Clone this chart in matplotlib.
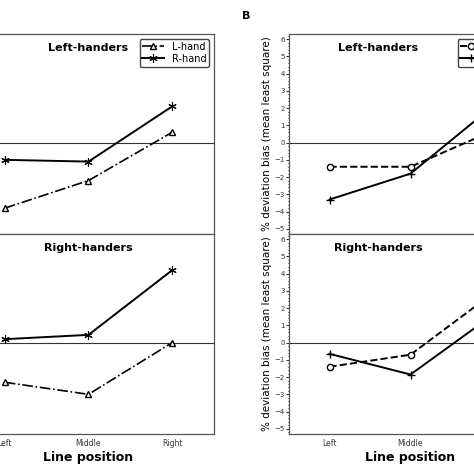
import numpy as np
import matplotlib
matplotlib.use("Agg")
import matplotlib.pyplot as plt
from matplotlib.ticker import MultipleLocator

positions = ["Left", "Middle", "Right"]

# panel A (left, cropped)
a_left_L = [-3.8, -2.2, 0.6]
a_left_R = [-1.0, -1.1, 2.1]
a_right_L = [-2.3, -3.0, 0.0]
a_right_R = [0.2, 0.45, 4.2]

# panel B (right, cropped)
b_left_circ = [-1.4, -1.4, 0.65]
b_left_plus = [-3.3, -1.8, 2.05]
b_right_circ = [-1.4, -0.7, 2.8]
b_right_plus = [-0.65, -1.85, 1.55]

W = 474.0
fig = plt.figure(figsize=(4.74, 4.74), dpi=100)

def px_axes(x0, x1, y0, y1):
    return fig.add_axes([x0 / W, 1 - y1 / W, (x1 - x0) / W, (y1 - y0) / W])

x = np.arange(3)
ylim = (-5.3, 6.3)

def style(ax, show_x, yticks):
    ax.set_xlim(-0.5, 2.5)
    ax.set_ylim(*ylim)
    ax.axhline(0, color="#333333", lw=0.8)
    for s in ax.spines.values():
        s.set_color("#555555")
        s.set_linewidth(0.9)
    ax.set_xticks(x)
    if show_x:
        ax.set_xticklabels(positions, fontsize=5.5, color="#333333")
        ax.set_xlabel("Line position", fontsize=9, fontweight="bold", labelpad=2)
    else:
        ax.set_xticklabels([])
    ax.tick_params(axis="x", length=0)
    if yticks:
        ax.yaxis.set_major_locator(MultipleLocator(1))
        ax.yaxis.set_minor_locator(MultipleLocator(0.2))
        ax.tick_params(axis="y", labelsize=5, length=2, pad=1, colors="#333333")
        ax.tick_params(axis="y", which="minor", length=1)
        ax.set_ylabel("% deviation bias (mean least square)", fontsize=7.5, labelpad=2)
    else:
        ax.set_yticks([])

star = (6, 2, 0)

# panel A
ax1 = px_axes(-37, 214, 34, 234)
ax2 = px_axes(-37, 214, 234, 434)
for ax, L, R, title, show_x in [(ax1, a_left_L, a_left_R, "Left-handers", False),
                                (ax2, a_right_L, a_right_R, "Right-handers", True)]:
    style(ax, show_x, False)
    ax.plot(x, L, color="black", ls="-.", lw=1.2, marker="^", mfc="white", ms=5, label="L-hand")
    ax.plot(x, R, color="black", ls="-", lw=1.4, marker=star, ms=6, mew=0.8, label="R-hand")
    ax.text(1.0, 5.3, title, ha="center", fontsize=8, fontweight="bold")
ax1.legend(loc="upper right", fontsize=7, handlelength=2.2, borderpad=0.3,
           labelspacing=0.2, edgecolor="#444444", fancybox=True, framealpha=1)

# panel B
ax3 = px_axes(289, 532, 34, 234)
ax4 = px_axes(289, 532, 234, 434)
for ax, C, P, title, show_x in [(ax3, b_left_circ, b_left_plus, "Left-handers", False),
                                (ax4, b_right_circ, b_right_plus, "Right-handers", True)]:
    style(ax, show_x, True)
    ax.plot(x, C, color="black", ls="--", lw=1.4, marker="o", mfc="white", ms=4.5, label="L-hand")
    ax.plot(x, P, color="black", ls="-", lw=1.4, marker="+", ms=6, label="R-hand")
    ax.text(0.6, 5.3, title, ha="center", fontsize=8, fontweight="bold")
ax3.legend(loc="upper right", fontsize=7, handlelength=2.2, borderpad=0.3,
           labelspacing=0.2, edgecolor="#444444", fancybox=True, framealpha=1)

fig.text(242 / W, 1 - 16 / W, "B", fontsize=8, fontweight="bold", va="center")

fig.savefig("out.png", dpi=100)
